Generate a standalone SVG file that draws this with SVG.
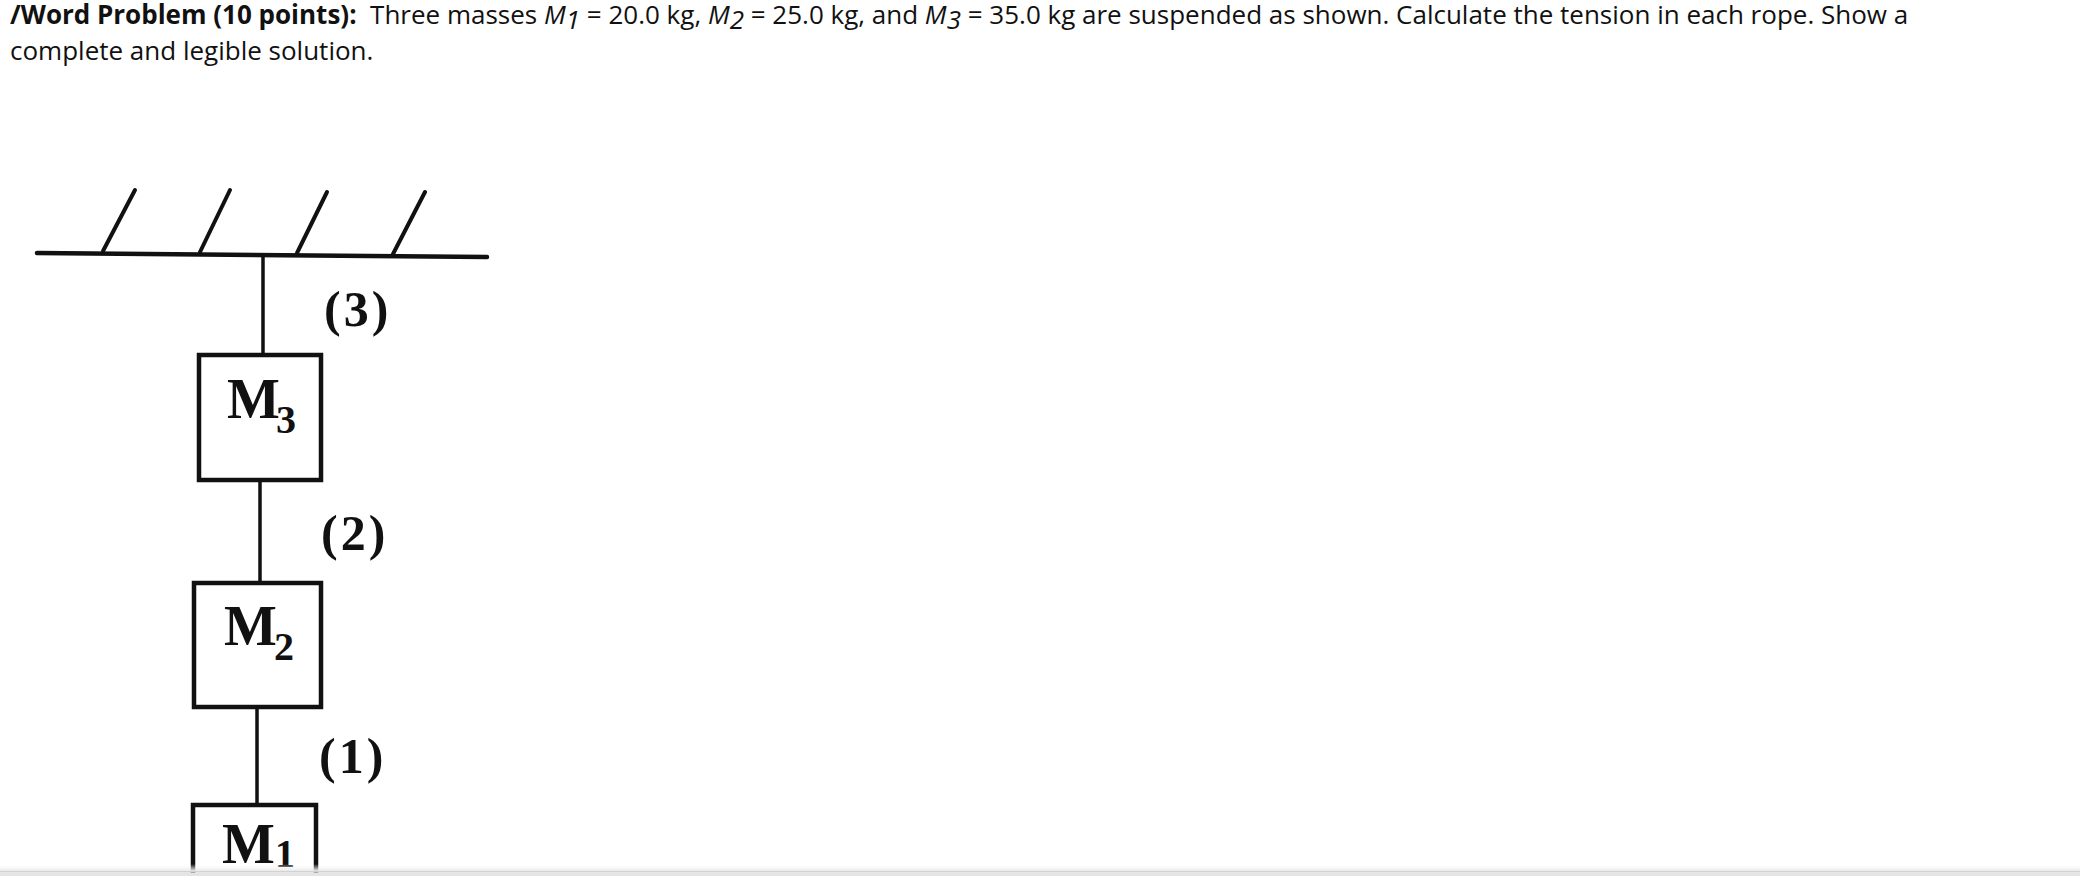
<svg xmlns="http://www.w3.org/2000/svg" width="2080" height="876" viewBox="0 0 2080 876">
  <defs>
    <linearGradient id="shade" x1="0" y1="0" x2="0" y2="1">
      <stop offset="0" stop-color="#ffffff" stop-opacity="0"/>
      <stop offset="1" stop-color="#e8e8e8"/>
    </linearGradient>
    <style>
      .hdr { font-family: "Open Sans", "Noto Sans", sans-serif; font-size: 26px; fill: #111; }
      .b { font-weight: bold; }
      .i { font-style: italic; }
      .ink { stroke: #111; fill: none; stroke-linecap: round; }
      .box { stroke: #111; stroke-width: 4.5; fill: #fff; }
      .rope { stroke: #111; stroke-width: 3.5; }
      .lbl { font-family: "Liberation Serif", "Times New Roman", serif; font-weight: bold; fill: #111; }
      .m { font-size: 56px; }
      .sub { font-size: 40px; }
      .num { font-size: 50px; letter-spacing: 3px; }
    </style>
  </defs>
  <rect width="2080" height="876" fill="#ffffff"/>

  <g id="header">
    <text class="hdr" x="10" y="24" xml:space="preserve"><tspan class="b">/Word Problem (10 points):</tspan>  Three masses <tspan class="i">M</tspan><tspan class="i" dy="5">1</tspan><tspan dy="-5"> = 20.0 kg, </tspan><tspan class="i">M</tspan><tspan class="i" dy="5">2</tspan><tspan dy="-5"> = 25.0 kg, and </tspan><tspan class="i">M</tspan><tspan class="i" dy="5">3</tspan><tspan dy="-5"> = 35.0 kg are suspended as shown. Calculate the tension in each rope. Show a</tspan></text>
    <text class="hdr" x="10" y="60">complete and legible solution.</text>
  </g>

  <g id="ceiling">
    <line class="ink" x1="37" y1="253" x2="487" y2="257" stroke-width="4.5"/>
    <line class="ink" x1="103" y1="251" x2="135" y2="190" stroke-width="4"/>
    <line class="ink" x1="200" y1="252" x2="230" y2="190" stroke-width="4"/>
    <line class="ink" x1="297" y1="253" x2="327" y2="192" stroke-width="4"/>
    <line class="ink" x1="393" y1="254" x2="425" y2="192" stroke-width="4"/>
  </g>

  <g id="connectors">
    <line class="rope" x1="263" y1="255" x2="263" y2="355"/>
    <line class="rope" x1="260" y1="482" x2="260" y2="583"/>
    <line class="rope" x1="257" y1="709" x2="257" y2="805"/>
  </g>

  <g id="rope-labels">
    <text class="lbl num" x="324" y="326">(3)</text>
    <text class="lbl num" x="321" y="550">(2)</text>
    <text class="lbl num" x="319" y="773">(1)</text>
  </g>

  <g id="mass3">
    <rect class="box" x="199" y="355" width="122" height="125"/>
    <text class="lbl m" x="227" y="418">M</text>
    <text class="lbl sub" x="276" y="433">3</text>
  </g>

  <g id="mass2">
    <rect class="box" x="194" y="583" width="127" height="124"/>
    <text class="lbl m" x="224" y="645">M</text>
    <text class="lbl sub" x="274" y="660">2</text>
  </g>

  <g id="mass1">
    <rect class="box" x="193" y="805" width="123" height="120"/>
    <text class="lbl m" x="222" y="863">M</text>
    <text class="lbl sub" x="275" y="867">1</text>
  </g>

  <g id="bottom-bar">
    <rect x="0" y="864" width="2080" height="7" fill="url(#shade)"/>
    <rect x="0" y="871" width="2080" height="1.5" fill="#d2d2d2"/>
    <rect x="0" y="872.5" width="2080" height="3.5" fill="#e4e4e4"/>
  </g>
</svg>
